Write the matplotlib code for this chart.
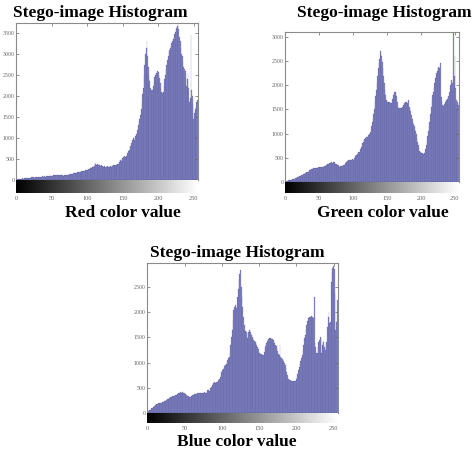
import numpy as np
import matplotlib
matplotlib.use("Agg")
import matplotlib.pyplot as plt

W, H = 474, 450

title_text = "Stego-image Histogram"
xlabels = ["Red color value", "Green color value", "Blue color value"]
xticks = [0, 50, 100, 150, 200, 250]
xtick_labels = ["0", "50", "100", "150", "200", "250"]

red_yticks = [0, 500, 1000, 1500, 2000, 2500, 3000, 3500]
green_yticks = [0, 500, 1000, 1500, 2000, 2500, 3000]
blue_yticks = [0, 500, 1000, 1500, 2000, 2500]

red = [
    10, 15, 20, 25, 25, 30, 30, 35, 30, 40, 35, 40, 45, 40, 45, 50,
    45, 50, 55, 50, 55, 60, 55, 60, 65, 60, 55, 65, 70, 65, 60, 70,
    75, 70, 80, 75, 70, 85, 80, 90, 85, 80, 95, 90, 85, 100, 95, 90,
    100, 110, 105, 95, 115, 120, 110, 125, 115, 130, 120, 110, 125, 120, 130, 115,
    110, 120, 105, 115, 120, 110, 125, 115, 120, 130, 125, 140, 135, 130, 150, 145,
    150, 160, 155, 170, 165, 175, 180, 170, 190, 185, 200, 195, 210, 205, 200, 220,
    215, 230, 240, 235, 250, 245, 260, 270, 280, 300, 290, 310, 330, 320, 340, 420,
    370, 360, 380, 370, 360, 350, 360, 340, 350, 330, 340, 320, 330, 310, 300, 320,
    330, 320, 300, 310, 330, 340, 320, 350, 340, 360, 350, 340, 360, 355, 370, 380,
    390, 420, 480, 470, 460, 500, 520, 540, 560, 530, 550, 580, 600, 640, 680, 720,
    780, 820, 870, 920, 950, 1000, 1030, 960, 1050, 1100, 1120, 1200, 1300, 1400, 1450, 1550,
    1700, 1850, 2050, 2200, 2500, 2750, 3000, 3150, 3300, 2950, 2700, 2500, 2350, 2200, 2150, 2100,
    2150, 2250, 2350, 2450, 2500, 2550, 2550, 2600, 2580, 2500, 2420, 2300, 2200, 2100, 2080, 2100,
    2250, 2400, 2500, 2650, 2750, 2850, 2950, 3050, 3100, 3150, 3200, 3260, 3300, 3350, 3400, 3480,
    3520, 3580, 3620, 3680, 3720, 3600, 3400, 3300, 3150, 3000, 2950, 2800, 2700, 2650, 2600, 2450,
    2250, 2400, 2550, 2200, 1850, 1950, 3450, 2150, 2000, 1800, 1450, 1600, 1680, 1750, 1850, 1900,
]

green = [
    10, 15, 20, 25, 30, 35, 40, 40, 45, 50, 55, 60, 60, 65, 70, 80,
    90, 100, 105, 110, 115, 120, 125, 130, 140, 145, 150, 160, 170, 180, 190, 200,
    205, 210, 215, 220, 240, 250, 260, 270, 265, 280, 290, 285, 280, 275, 280, 285,
    290, 300, 310, 305, 300, 310, 320, 315, 320, 330, 340, 335, 350, 360, 370, 375,
    380, 390, 385, 400, 410, 395, 400, 410, 405, 390, 380, 370, 365, 360, 350, 340,
    320, 330, 340, 335, 340, 345, 350, 360, 380, 400, 420, 430, 440, 445, 450, 455,
    450, 440, 460, 470, 455, 480, 500, 530, 550, 560, 580, 600, 610, 620, 630, 680,
    720, 760, 800, 835, 860, 880, 900, 910, 920, 940, 960, 980, 1000, 1020, 1040, 1150,
    1250, 1300, 1400, 1500, 1650, 1770, 1900, 2050, 2200, 2350, 2450, 2550, 2700, 2650, 2600, 2480,
    2350, 2200, 2050, 1900, 1800, 1700, 1680, 1660, 1650, 1660, 1650, 1640, 1630, 1660, 1720, 1800,
    1820, 1850, 1870, 1840, 1770, 1650, 1560, 1530, 1520, 1510, 1520, 1530, 1540, 1560, 1600, 1620,
    1640, 1650, 1660, 1650, 1640, 1620, 1700, 1560, 1520, 1460, 1380, 1300, 1250, 1200, 1150, 1100,
    1050, 1000, 900, 820, 770, 700, 650, 620, 600, 590, 590, 580, 585, 590, 610, 680,
    770, 850, 950, 1050, 1150, 1250, 1400, 1550, 1700, 1800, 1870, 1950, 2050, 2150, 2200, 2250,
    2300, 2350, 2380, 2350, 2300, 2450, 1750, 1650, 1600, 1580, 1600, 1620, 1650, 1680, 1700, 1720,
    1750, 1780, 1850, 2000, 1950, 2100, 2050, 1900, 3150, 2200, 2600, 1950, 1700, 1500, 1650, 1600,
]

blue = [
    20, 30, 40, 50, 60, 80, 90, 100, 120, 130, 140, 160, 170, 175, 180, 190,
    190, 195, 200, 205, 210, 220, 225, 230, 240, 250, 260, 270, 280, 290, 300, 310,
    320, 325, 330, 335, 340, 345, 350, 360, 370, 380, 390, 400, 410, 405, 400, 410,
    405, 395, 390, 380, 370, 350, 340, 330, 325, 320, 320, 330, 340, 350, 360, 380,
    390, 385, 380, 390, 395, 400, 395, 400, 405, 400, 395, 400, 405, 410, 400, 405,
    420, 450, 455, 430, 440, 500, 520, 560, 580, 600, 610, 605, 600, 610, 620, 640,
    660, 680, 720, 780, 820, 860, 880, 900, 930, 950, 980, 1020, 1050, 1085, 1120, 1200,
    1350, 1500, 1650, 1850, 2040, 2100, 2140, 2100, 2080, 2300, 2470, 2650, 2750, 2840, 2500, 2300,
    2100, 1910, 1750, 1650, 1620, 1600, 1480, 1580, 1600, 1650, 1600, 1560, 1540, 1500, 1480, 1450,
    1420, 1400, 1380, 1350, 1300, 1260, 1220, 1200, 1180, 1170, 1160, 1150, 1160, 1220, 1280, 1320,
    1380, 1420, 1450, 1470, 1480, 1490, 1480, 1470, 1460, 1440, 1420, 1390, 1350, 1320, 1280, 1230,
    1180, 1160, 1350, 1120, 1100, 1080, 1060, 1030, 1000, 950, 900, 820, 760, 700, 680, 660,
    650, 640, 635, 630, 625, 620, 625, 630, 680, 720, 780, 850, 920, 980, 1030, 1085,
    1150, 1250, 1350, 1480, 1550, 1650, 1750, 1820, 1880, 1900, 1910, 1900, 1920, 1910, 1900, 1880,
    2310, 1390, 1300, 1200, 1190, 1300, 1400, 1450, 1500, 1480, 1190, 1350, 1450, 1400, 1300, 1250,
    1350, 1410, 1700, 1900, 2010, 1780, 1810, 2600, 2800, 2870, 2910, 2850, 2380, 1650, 1810, 2250,
]

fig = plt.figure(figsize=(W / 100, H / 100), dpi=100)
fig.patch.set_facecolor("white")


def px_axes(l, t, r, b):
    return fig.add_axes([l / W, 1 - b / H, (r - l) / W, (b - t) / H])


panels = [
    dict(box=(16, 23, 198, 180), cb=193, ytop=3740, yt=red_yticks, data=red,
         tpos=(100, 13), xpos=(123, 213), xl=xlabels[0]),
    dict(box=(285, 32, 459, 182), cb=193, ytop=3100, yt=green_yticks, data=green,
         tpos=(384, 13), xpos=(383, 213), xl=xlabels[1]),
    dict(box=(147, 263, 338, 413), cb=423, ytop=2976, yt=blue_yticks, data=blue,
         tpos=(237, 253), xpos=(237, 442), xl=xlabels[2]),
]

grad = np.linspace(0, 1, 256).reshape(1, -1)
bins = np.arange(256)
spine_col = "#8a8a8a"
tick_col = "#666666"

for p in panels:
    l, t, r, b = p["box"]
    ax = px_axes(l, t, r, b)
    ax.bar(bins, p["data"], width=1.0, color="#8c8fcd", edgecolor="#2c2d6c",
           linewidth=0.12)
    ax.set_xlim(-0.5, 256)
    ax.set_ylim(0, p["ytop"])
    ax.set_yticks(p["yt"])
    ax.set_yticklabels([str(v) for v in p["yt"]], family="Liberation Serif")
    ax.set_xticks(xticks)
    ax.set_xticklabels([])
    ax.tick_params(axis="both", direction="in", length=2, width=0.5,
                   colors=tick_col, labelsize=4.2, pad=1.2,
                   top=True, right=True)
    ax.tick_params(axis="x", bottom=False)
    for s in ax.spines.values():
        s.set_color(spine_col)
        s.set_linewidth(0.8)
    ax.spines["bottom"].set_visible(False)

    cax = px_axes(l, b, r, p["cb"])
    cax.imshow(grad, cmap="gray", aspect="auto", extent=(-0.5, 256, 0, 1))
    cax.set_xlim(-0.5, 256)
    cax.set_yticks([])
    cax.set_xticks(xticks)
    cax.set_xticklabels(xtick_labels, family="Liberation Serif")
    cax.tick_params(axis="x", direction="in", length=0, colors=tick_col,
                    labelsize=4.6, pad=2)
    for s in cax.spines.values():
        s.set_visible(False)

    fig.text(p["tpos"][0] / W, 1 - p["tpos"][1] / H, title_text,
             ha="center", va="center", family="Liberation Serif",
             fontweight="bold", fontsize=12.5, color="black")
    fig.text(p["xpos"][0] / W, 1 - p["xpos"][1] / H, p["xl"],
             ha="center", va="center", family="Liberation Serif",
             fontweight="bold", fontsize=12.5, color="black")

fig.savefig("out.png", dpi=100, facecolor="white")
